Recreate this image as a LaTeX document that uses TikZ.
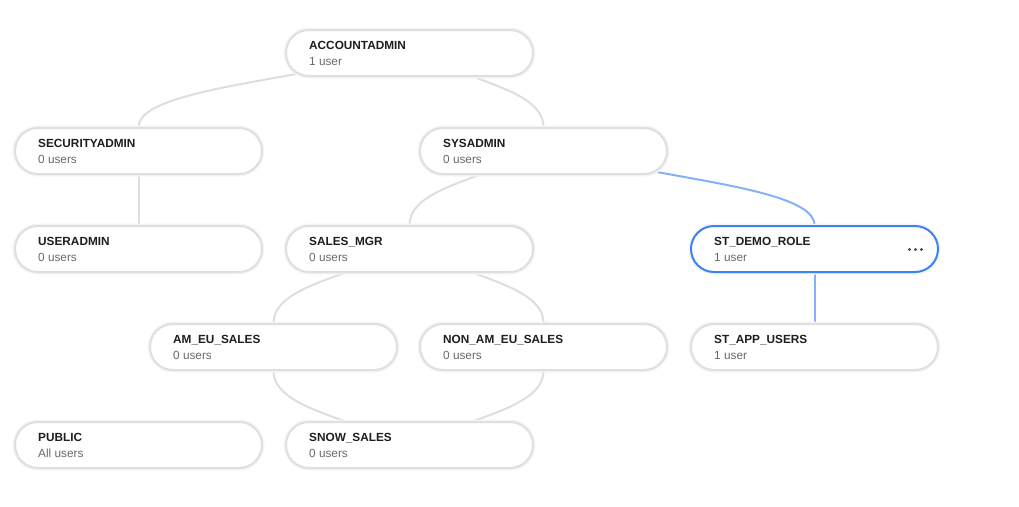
\documentclass[tikz,border=0pt]{standalone}
\usepackage{fontspec}
\setmainfont{Liberation Sans}
\usetikzlibrary{calc}
\definecolor{edgegray}{HTML}{DEDEDE}
\definecolor{boxgray}{HTML}{DFDFDF}
\definecolor{halo}{HTML}{F4F4F4}
\definecolor{bluebox}{HTML}{3B82F6}
\definecolor{blueedge}{HTML}{84B1F8}
\definecolor{titlec}{HTML}{1E1E1E}
\definecolor{subc}{HTML}{6A6A6A}
\definecolor{dotc}{HTML}{4A4A4A}
\pgfdeclarelayer{bg}
\pgfsetlayers{bg,main}
\tikzset{
  rolebox/.style={draw=boxgray, line width=2pt, fill=white, rounded corners=23pt,
    minimum width=247pt, minimum height=46pt, inner sep=0pt,
    preaction={draw=halo, line width=5pt}},
  activebox/.style={draw=bluebox},
  roletitle/.style={anchor=base west, inner sep=0pt, text=titlec,
    font=\bfseries\fontsize{11.8}{13}\selectfont},
  rolesub/.style={anchor=base west, inner sep=0pt, text=subc,
    font=\fontsize{11.8}{13}\selectfont},
  edge/.style={draw=edgegray, line width=2pt},
  activeedge/.style={draw=blueedge, line width=2pt},
}
\newcommand\mkrole[6]{%
  \node[rolebox,#6] (#1) at ({#2+124.5},{#3+24}) {};
  \node[roletitle] (#1-t) at ({#2+24},{#3+20.5}) {#4};
  \node[rolesub] (#1-s) at ({#2+24},{#3+36.5}) {#5};
}
\begin{document}
\begin{tikzpicture}[x=1pt,y=-1pt]
\useasboundingbox (0,0) rectangle (1019,506);
\mkrole{acc}{285}{29}{ACCOUNTADMIN}{1 user}{}
\mkrole{sec}{14}{127}{SECURITYADMIN}{0 users}{}
\mkrole{sys}{419}{127}{SYSADMIN}{0 users}{}
\mkrole{usr}{14}{225}{USERADMIN}{0 users}{}
\mkrole{mgr}{285}{225}{SALES\_MGR}{0 users}{}
\mkrole{demo}{690}{225}{ST\_DEMO\_ROLE}{1 user}{activebox}
\mkrole{am}{149}{323}{AM\_EU\_SALES}{0 users}{}
\mkrole{nonam}{419}{323}{NON\_AM\_EU\_SALES}{0 users}{}
\mkrole{app}{690}{323}{ST\_APP\_USERS}{1 user}{}
\mkrole{pub}{14}{421}{PUBLIC}{All users}{}
\mkrole{snow}{285}{421}{SNOW\_SALES}{0 users}{}
% dots menu
\fill[dotc] (909.5,249.5) circle[radius=1.6pt] (915.5,249.5) circle[radius=1.6pt] (921.5,249.5) circle[radius=1.6pt];
\begin{pgfonlayer}{bg}
  \draw[edge] (acc.north) .. controls ($(acc.north)+(0,49)$) and ($(sec.north)+(0,-49)$) .. (sec.north);
  \draw[edge] (acc.north) .. controls ($(acc.north)+(0,49)$) and ($(sys.north)+(0,-49)$) .. (sys.north);
  \draw[edge] (sec.south) -- (usr.north);
  \draw[edge] (sys.north) .. controls ($(sys.north)+(0,49)$) and ($(mgr.north)+(0,-49)$) .. (mgr.north);
  \draw[activeedge] (sys.north) .. controls ($(sys.north)+(0,49)$) and ($(demo.north)+(0,-49)$) .. (demo.north);
  \draw[edge] (mgr.north) .. controls ($(mgr.north)+(0,49)$) and ($(am.north)+(0,-49)$) .. (am.north);
  \draw[edge] (mgr.north) .. controls ($(mgr.north)+(0,49)$) and ($(nonam.north)+(0,-49)$) .. (nonam.north);
  \draw[activeedge] (demo.south) -- (app.north);
  \draw[edge] (am.south) .. controls ($(am.south)+(0,49)$) and ($(snow.south)+(0,-49)$) .. (snow.south);
  \draw[edge] (nonam.south) .. controls ($(nonam.south)+(0,49)$) and ($(snow.south)+(0,-49)$) .. (snow.south);
\end{pgfonlayer}
\end{tikzpicture}
\end{document}
